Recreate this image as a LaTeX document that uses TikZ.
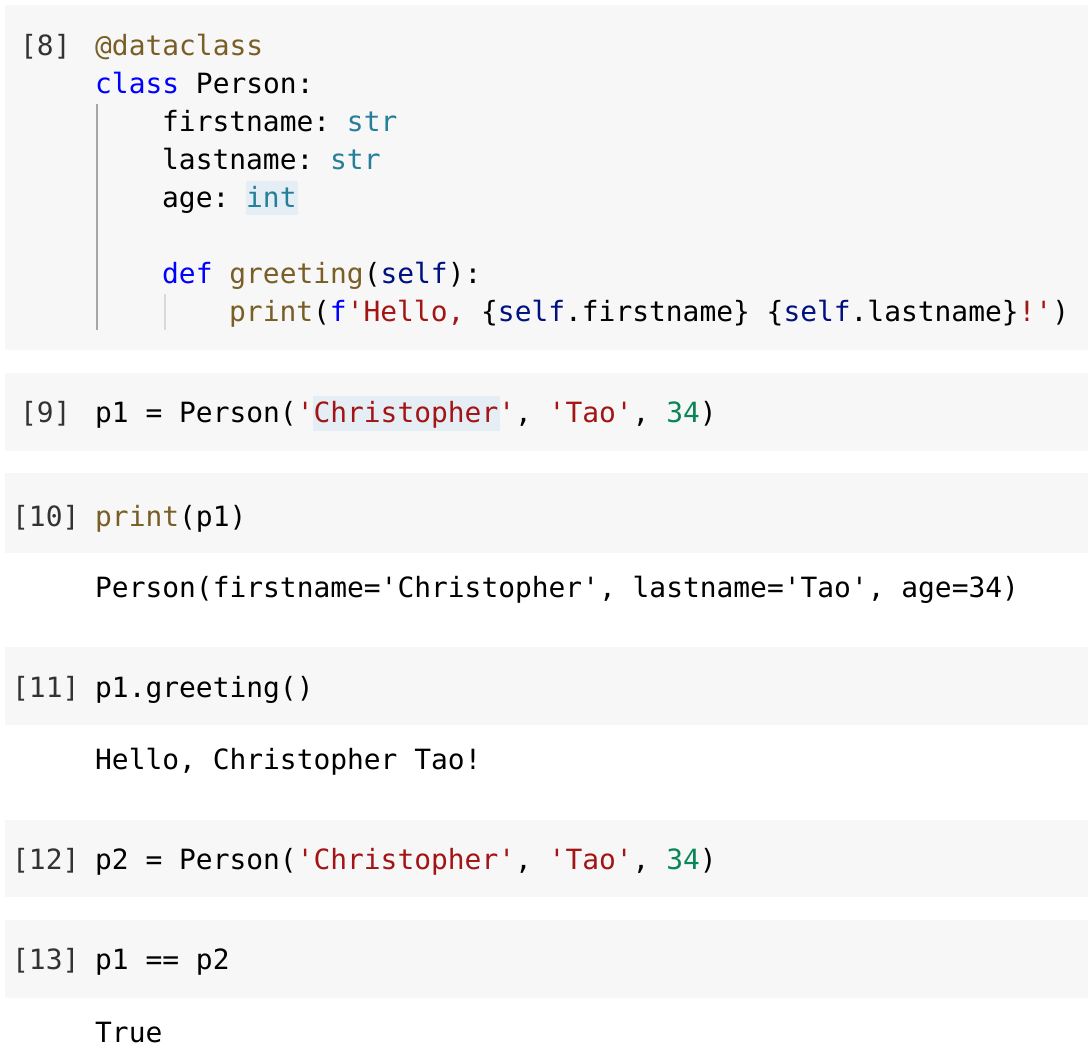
\documentclass[tikz,border=0pt]{standalone}
\usepackage{fontspec}
\setmonofont{DejaVu Sans Mono}
\definecolor{cellbg}{HTML}{F7F7F7}
\definecolor{kw}{HTML}{0000FF}
\definecolor{fn}{HTML}{795E26}
\definecolor{ty}{HTML}{267F99}
\definecolor{sf}{HTML}{001080}
\definecolor{st}{HTML}{A31515}
\definecolor{nu}{HTML}{098658}
\definecolor{hl}{HTML}{E6EEF5}
\newcommand{\K}[1]{\textcolor{kw}{#1}}
\newcommand{\F}[1]{\textcolor{fn}{#1}}
\newcommand{\T}[1]{\textcolor{ty}{#1}}
\newcommand{\Sf}[1]{\textcolor{sf}{#1}}
\newcommand{\St}[1]{\textcolor{st}{#1}}
\newcommand{\N}[1]{\textcolor{nu}{#1}}
\begin{document}
\begin{tikzpicture}[x=1pt,y=-1pt,
  code/.style={anchor=west,inner sep=0pt,font=\ttfamily\fontsize{27.9}{33}\selectfont,text height=20pt,text depth=6pt,yshift=-2pt},
  lbl/.style={code,text=black!80},
  cell/.style={fill=cellbg,draw=none}]
\useasboundingbox (0,0) rectangle (1088,1050);
\fill[white] (0,0) rectangle (1088,1050);
\fill[cell] (5,5) rectangle (1088,350);
\fill[cell] (5,373) rectangle (1088,451);
\fill[cell] (5,473) rectangle (1088,553);
\fill[cell] (5,647) rectangle (1088,725);
\fill[cell] (5,820) rectangle (1088,897);
\fill[cell] (5,920) rectangle (1088,998);
\fill[hl] (246,181) rectangle (298,215);
\fill[hl] (313,396) rectangle (500,431);
\draw[black!35,line width=1.2pt] (97,104) -- (97,330);
\draw[black!15,line width=1.2pt] (165,294) -- (165,330);
\node[lbl] (l8) at (20,46) {[8]};
\node[code] (c1) at (95,46) {\F{@dataclass}};
\node[code] (c2) at (95,84) {\K{class} Person:};
\node[code] (c3) at (162,122) {firstname: \T{str}};
\node[code] (c4) at (162,160) {lastname: \T{str}};
\node[code] (c5) at (162,198) {age: \T{int}};
\node[code] (c6) at (162,274) {\K{def} \F{greeting}(\Sf{self}):};
\node[code] (c7) at (229,312) {\F{print}(\K{f}\St{'Hello, }\{\Sf{self}.firstname\} \{\Sf{self}.lastname\}\St{!'})};
\node[lbl] (l9) at (20,413) {[9]};
\node[code] (c9) at (95,413) {p1 = Person(\St{'Christopher'}, \St{'Tao'}, \N{34})};
\node[lbl] (l10) at (12,517) {[10]};
\node[code] (c10) at (95,517) {\F{print}(p1)};
\node[code] (o10) at (95,588) {Person(firstname='Christopher', lastname='Tao', age=34)};
\node[lbl] (l11) at (12,688) {[11]};
\node[code] (c11) at (95,688) {p1.greeting()};
\node[code] (o11) at (95,760) {Hello, Christopher Tao!};
\node[lbl] (l12) at (12,860) {[12]};
\node[code] (c12) at (95,860) {p2 = Person(\St{'Christopher'}, \St{'Tao'}, \N{34})};
\node[lbl] (l13) at (12,960) {[13]};
\node[code] (c13) at (95,960) {p1 == p2};
\node[code] (o13) at (95,1033) {True};
\end{tikzpicture}
\end{document}
